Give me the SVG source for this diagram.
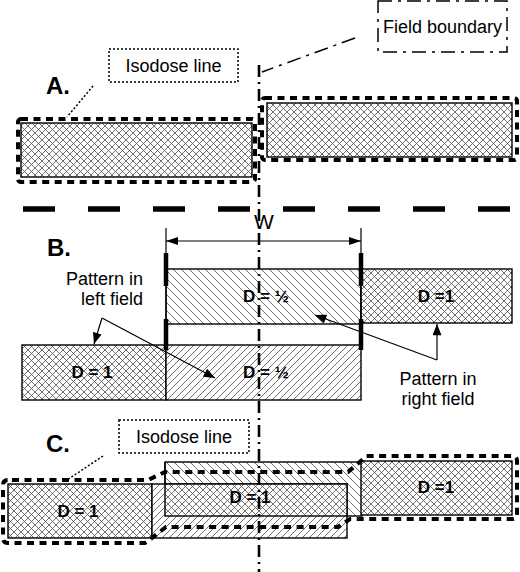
<svg xmlns="http://www.w3.org/2000/svg" width="520" height="572" viewBox="0 0 520 572">
<style>
.t{font-family:"Liberation Sans",Arial,sans-serif;fill:#000}
.lbl{font-size:18px}
.big{font-size:24px;font-weight:bold}
.d{font-size:17px;font-weight:bold;text-anchor:middle}
.fld{stroke:#000;stroke-width:1.4}
.iso{fill:none;stroke:#000;stroke-width:4;stroke-dasharray:7 5.5}
.dot{fill:none;stroke:#000;stroke-width:1.5;stroke-dasharray:2 2}
.dd{fill:none;stroke:#000;stroke-width:1.5;stroke-dasharray:14 6 3 6}
.thin{fill:none;stroke:#000;stroke-width:1.2}
.thick{stroke:#000;stroke-width:4.5}
</style>
<defs>
<pattern id="xh" width="7" height="7" patternUnits="userSpaceOnUse">
<rect width="7" height="7" fill="#fff"/>
<path d="M-1,-1 L8,8 M8,-1 L-1,8" stroke="#4a4a4a" stroke-width="0.8"/>
</pattern>
<pattern id="hb" width="8" height="8" patternUnits="userSpaceOnUse">
<rect width="8" height="8" fill="#fff"/>
<path d="M-2,-2 L10,10 M-2,6 L2,10 M6,-2 L10,2" stroke="#4a4a4a" stroke-width="0.8"/>
</pattern>
<pattern id="hf" width="7" height="7" patternUnits="userSpaceOnUse">
<rect width="7" height="7" fill="#fff"/>
<path d="M-2,9 L9,-2 M-2,2 L2,-2 M5,9 L9,5" stroke="#4a4a4a" stroke-width="0.8"/>
</pattern>
<marker id="ah" viewBox="0 0 10 8" refX="10" refY="4" markerWidth="12" markerHeight="9" markerUnits="userSpaceOnUse" orient="auto">
<path d="M0,0 L10,4 L0,8 z" fill="#000"/>
</marker>
</defs>
<rect width="520" height="572" fill="#fff"/>

<!-- Part A -->
<g id="labelA"><text class="t big" x="46" y="94">A.</text></g>
<g id="isodoseBoxA">
<rect class="dot" x="109" y="49" width="129" height="33"/>
<text class="t lbl" x="173.5" y="72" text-anchor="middle">Isodose line</text>
</g>
<g id="fieldBoundaryBox">
<rect class="dd" x="378" y="1" width="129" height="51"/>
<text class="t lbl" x="442.5" y="33" text-anchor="middle">Field boundary</text>
</g>
<g id="fieldA_left">
<rect class="fld" x="21" y="123" width="231" height="54" fill="url(#xh)"/>
<rect class="iso" x="18" y="119" width="237" height="63" rx="3"/>
</g>
<g id="fieldA_right">
<rect class="fld" x="267" y="103" width="245" height="54" fill="url(#xh)"/>
<rect class="iso" x="262" y="98" width="255" height="62" rx="3"/>
</g>

<!-- separator -->
<g id="separator">
<line x1="23" y1="209" x2="512" y2="209" stroke="#000" stroke-width="5.5" stroke-dasharray="32 33"/>
</g>

<!-- Part B -->
<g id="labelB"><text class="t big" x="47" y="256">B.</text></g>
<g id="fieldB_leftOpen">
<rect class="fld" x="22" y="345" width="144" height="55" fill="url(#xh)"/>
<text class="t d" x="92" y="378">D = 1</text>
</g>
<g id="fieldB_leftPen">
<rect class="fld" x="166" y="345" width="195" height="55" fill="url(#hf)"/>
<text class="t d" x="266" y="378">D = ½</text>
</g>
<g id="fieldB_rightPen">
<rect class="fld" x="166" y="269" width="195" height="55" fill="url(#hb)"/>
<text class="t d" x="266" y="302">D = ½</text>
</g>
<g id="fieldB_rightOpen">
<rect class="fld" x="361" y="269" width="151" height="54" fill="url(#xh)"/>
<text class="t d" x="436" y="302">D =1</text>
</g>
<g id="widthW">
<line class="thin" x1="166" y1="228" x2="166" y2="350"/>
<line class="thin" x1="361" y1="228" x2="361" y2="350"/>
<line class="thick" x1="166" y1="253" x2="166" y2="286"/>
<line class="thick" x1="166" y1="319" x2="166" y2="350"/>
<line class="thick" x1="361" y1="253" x2="361" y2="286"/>
<line class="thick" x1="361" y1="319" x2="361" y2="350"/>
<text class="t" x="264" y="229" font-size="21" text-anchor="middle">W</text>
</g>
<g id="noteLeft">
<text class="t lbl" x="143" y="285" text-anchor="end">Pattern in</text>
<text class="t lbl" x="143" y="305" text-anchor="end">left field</text>
</g>
<g id="noteRight">
<text class="t lbl" x="438" y="385" text-anchor="middle">Pattern in</text>
<text class="t lbl" x="438" y="405" text-anchor="middle">right field</text>
</g>

<!-- Part C -->
<g id="labelC"><text class="t big" x="46" y="452">C.</text></g>
<g id="isodoseBoxC">
<rect class="dot" x="119" y="420" width="130" height="33"/>
<text class="t lbl" x="184" y="443" text-anchor="middle">Isodose line</text>
</g>
<g id="fieldC_left">
<rect class="fld" x="8" y="484" width="144" height="54" fill="url(#xh)"/>
<text class="t d" x="78" y="517">D = 1</text>
</g>
<g id="fieldC_pens">
<rect class="fld" x="165" y="462" width="197" height="54" fill="url(#hb)"/>
<rect class="fld" x="152" y="484" width="195" height="54" fill="url(#hf)"/>
<rect class="fld" x="165" y="484" width="182" height="32" fill="url(#xh)"/>
<line class="fld" x1="165" y1="462" x2="165" y2="484"/>
<line class="fld" x1="362" y1="462" x2="362" y2="516"/>
<text class="t d" x="250" y="503">D = 1</text>
</g>
<g id="fieldC_right">
<rect class="fld" x="361" y="461" width="151" height="54" fill="url(#xh)"/>
<text class="t d" x="436" y="493">D =1</text>
</g>
<g id="isodoseC">
<path class="iso" d="M12,480 L148,480 L165,472 L348,472 L362,460 L366,456 L512,456 Q517,456 517,461 L517,514 Q517,519 512,519 L366,519 L350,519 L338,527 L166,527 L148,541 L145,543 L8,543 Q3,543 3,538 L3,485 Q3,480 8,480 Z"/>
</g>

<!-- connectors -->
<g id="connectors">
<line x1="259" y1="65" x2="259" y2="572" stroke="#000" stroke-width="2.6" stroke-dasharray="12 5 2 5"/>
<line class="dot" x1="93" y1="86" x2="67" y2="117"/>
<line class="dd" x1="355" y1="38" x2="262" y2="72"/>
<line class="dot" x1="103" y1="456" x2="67" y2="480"/>
<line class="thin" x1="166" y1="241" x2="361" y2="241"/>
<path d="M178,237 L166,241 L178,245 z M349,237 L361,241 L349,245 z" fill="#000"/>
<line class="thin" x1="102" y1="318" x2="94" y2="344" marker-end="url(#ah)"/>
<line class="thin" x1="102" y1="318" x2="215" y2="378" marker-end="url(#ah)"/>
<line class="thin" x1="437" y1="360" x2="437" y2="324" marker-end="url(#ah)"/>
<line class="thin" x1="437" y1="360" x2="315" y2="315" marker-end="url(#ah)"/>
</g>
</svg>
